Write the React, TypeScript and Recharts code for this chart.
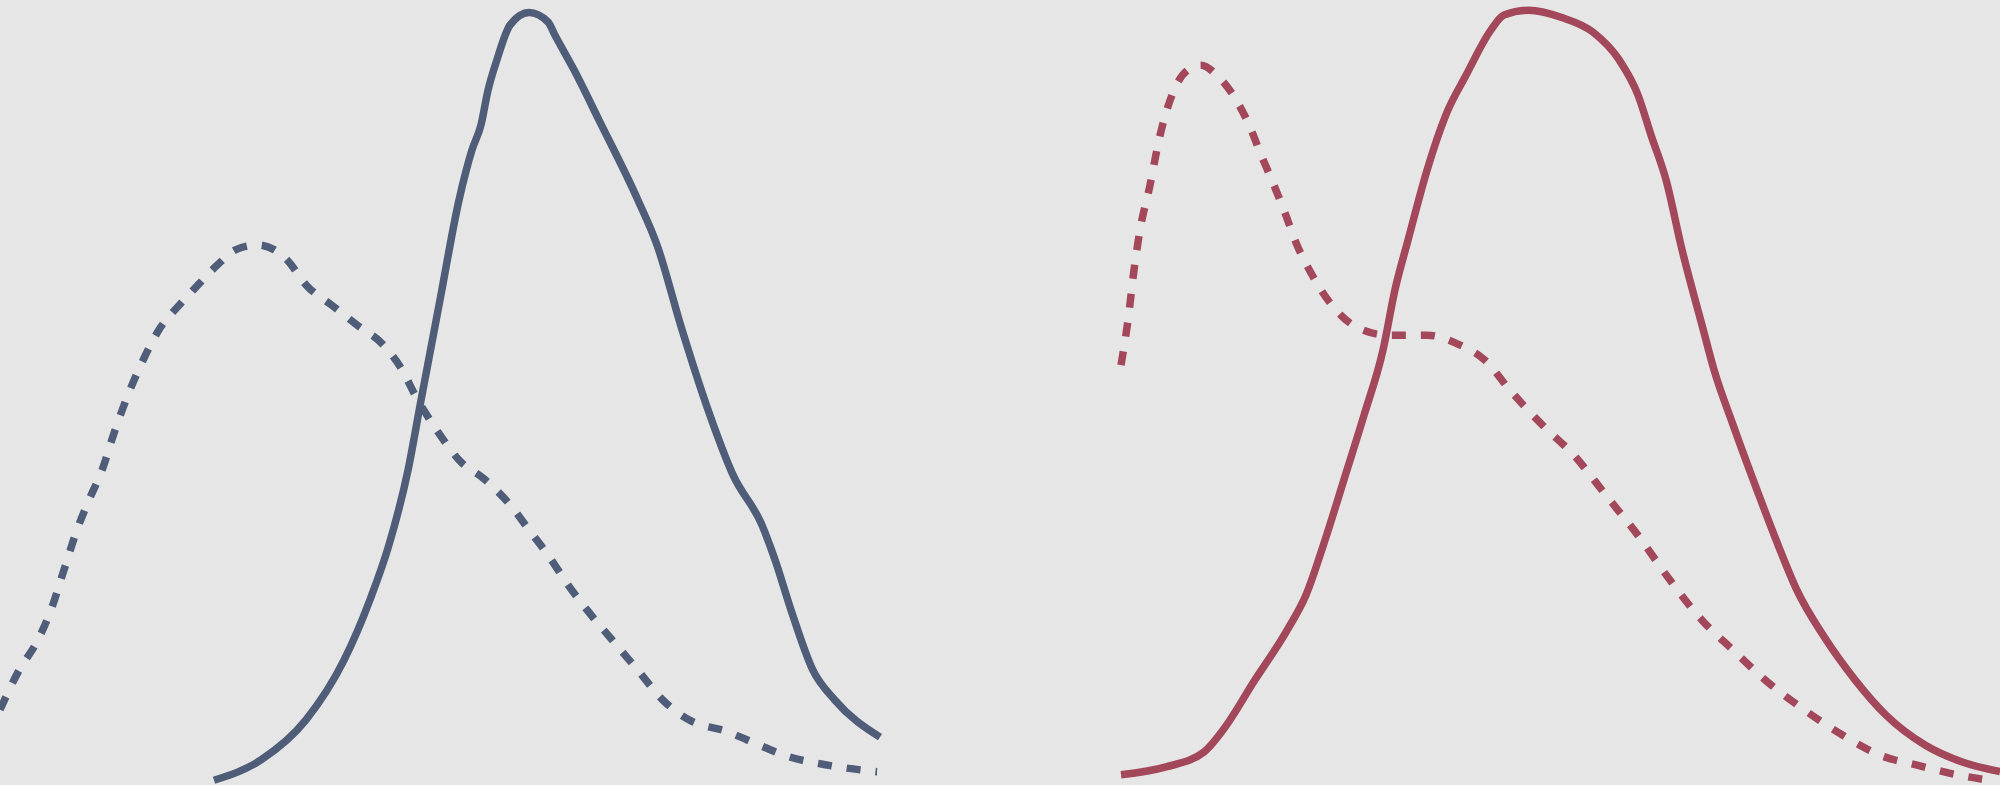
import { LineChart, Line, XAxis, YAxis } from 'recharts';

// density curves, x on a 0-100 scale, y as share of panel height
const leftSolid = [
  [10.7, 0.006], [13.05, 0.032], [15.3, 0.083], [17.2, 0.159], [18.5, 0.236],
  [19.45, 0.306], [20.4, 0.401], [21.05, 0.49], [22.0, 0.618], [22.95, 0.745],
  [23.6, 0.809], [24.05, 0.841], [24.4, 0.885], [24.85, 0.924], [25.5, 0.968],
  [26.45, 0.984], [27.4, 0.972], [27.75, 0.955], [28.7, 0.911], [29.95, 0.847],
  [31.9, 0.745], [32.85, 0.688], [34.1, 0.58], [35.4, 0.478], [36.65, 0.395],
  [38.1, 0.331], [38.75, 0.287], [39.55, 0.223], [40.65, 0.146], [41.75, 0.108],
  [44.0, 0.061],
];

const leftDashed = [
  [0, 0.096], [0.95, 0.146], [1.9, 0.185], [2.55, 0.223], [3.2, 0.274],
  [3.85, 0.325], [4.45, 0.363], [5.1, 0.401], [5.75, 0.452], [6.4, 0.497],
  [7.15, 0.541], [7.95, 0.58], [8.95, 0.611], [9.9, 0.637], [10.85, 0.662],
  [11.8, 0.682], [12.9, 0.688], [13.7, 0.682], [14.35, 0.669], [15.3, 0.637],
  [16.6, 0.611], [17.85, 0.586], [19.15, 0.561], [20.1, 0.529], [20.75, 0.497],
  [21.35, 0.471], [22.0, 0.446], [22.95, 0.414], [24.25, 0.389], [25.5, 0.357],
  [26.45, 0.325], [27.4, 0.293], [28.4, 0.255], [29.35, 0.223], [30.6, 0.185],
  [31.9, 0.146], [33.15, 0.108], [34.45, 0.083], [36.35, 0.068], [37.95, 0.051],
  [39.2, 0.038], [41.45, 0.025], [43.85, 0.017],
];

const rightSolid = [
  [56.05, 0.013], [58.3, 0.023], [60.2, 0.042], [61.15, 0.07], [62.75, 0.134],
  [64.35, 0.197], [65.3, 0.242], [66.25, 0.312], [67.2, 0.389], [68.2, 0.471],
  [69.15, 0.554], [69.75, 0.631], [70.4, 0.694], [71.35, 0.783], [72.3, 0.854],
  [73.3, 0.904], [74.55, 0.962], [75.2, 0.981], [76.45, 0.987], [78.05, 0.978],
  [79.65, 0.959], [80.95, 0.924], [81.9, 0.879], [82.55, 0.828], [83.3, 0.771],
  [84.1, 0.682], [85.1, 0.586], [85.7, 0.529], [86.65, 0.459], [87.95, 0.369],
  [88.9, 0.306], [89.85, 0.248], [91.15, 0.191], [92.75, 0.134], [94.3, 0.089],
  [96.25, 0.051], [98.15, 0.029], [100, 0.017],
];

const rightDashed = [
  [56.05, 0.535], [56.4, 0.592], [56.7, 0.656], [57.0, 0.707], [57.5, 0.764],
  [57.95, 0.822], [58.6, 0.879], [59.4, 0.911], [60.05, 0.917], [60.85, 0.904],
  [61.8, 0.873], [62.45, 0.841], [63.05, 0.803], [63.7, 0.764], [64.2, 0.732],
  [64.85, 0.688], [65.6, 0.65], [66.6, 0.611], [67.85, 0.583], [69.45, 0.573],
  [71.35, 0.573], [72.95, 0.561], [74.25, 0.541], [75.5, 0.503], [77.1, 0.459],
  [78.7, 0.42], [80.3, 0.369], [81.9, 0.318], [83.5, 0.261], [85.1, 0.21],
  [86.65, 0.172], [88.25, 0.134], [90.2, 0.096], [92.1, 0.064], [94.0, 0.038],
  [95.9, 0.025], [97.85, 0.013], [99.45, 0.006],
];

const BLUE = '#4f5d78';
const RED = '#a3475a';

const toRows = (pts: number[][]) => pts.map(([x, y]) => ({ x, y }));

export default function App() {
  return (
    <div style={{ width: 2000, height: 785, background: '#e6e6e6' }}>
      <style>{'body{margin:0}'}</style>
      <LineChart width={2000} height={785} margin={{ top: 0, right: 0, bottom: 0, left: 0 }}>
        <XAxis dataKey="x" type="number" domain={[0, 100]} allowDataOverflow hide />
        <YAxis type="number" domain={[0, 1]} allowDataOverflow hide />
        <Line data={toRows(leftSolid)} dataKey="y" type="monotone" stroke={BLUE} strokeWidth={7.5}
          dot={false} activeDot={false} isAnimationActive={false} />
        <Line data={toRows(leftDashed)} dataKey="y" type="monotone" stroke={BLUE} strokeWidth={7.5}
          strokeDasharray="14 15" dot={false} activeDot={false} isAnimationActive={false} />
        <Line data={toRows(rightSolid)} dataKey="y" type="monotone" stroke={RED} strokeWidth={7.5}
          dot={false} activeDot={false} isAnimationActive={false} />
        <Line data={toRows(rightDashed)} dataKey="y" type="monotone" stroke={RED} strokeWidth={7.5}
          strokeDasharray="14 15" dot={false} activeDot={false} isAnimationActive={false} />
      </LineChart>
    </div>
  );
}
